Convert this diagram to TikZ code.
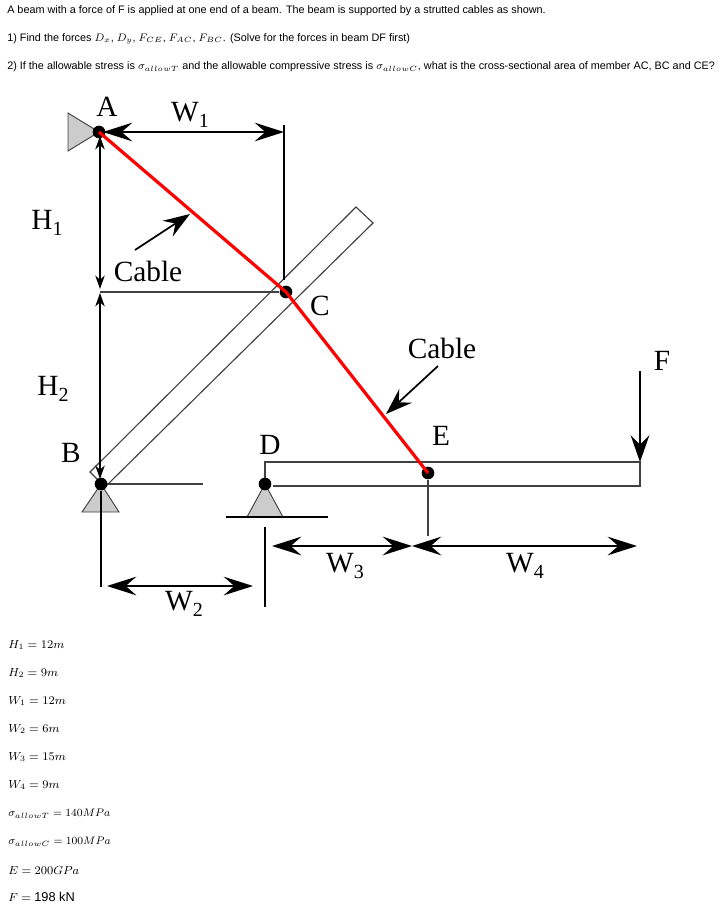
\documentclass[tikz,border=0pt]{standalone}
\usepackage{fix-cm}
\usepackage{fontspec}
\setmainfont{Liberation Sans}
\newfontfamily\figfont{Liberation Serif}
\usetikzlibrary{arrows.meta}
\newcommand{\labsub}[1]{\raisebox{-5pt}{\fontsize{15}{15}\selectfont #1}}
\tikzset{
  px/.style={x=0.75pt,y=-0.75pt},
  para/.style={anchor=west,inner sep=0pt,font=\fontsize{8.13}{10}\selectfont},
  val/.style={anchor=west,inner sep=0pt,font=\fontsize{8.8}{10}\selectfont},
  valtight/.style={anchor=west,inner sep=0pt,font=\fontsize{8.2}{10}\selectfont},
  lab/.style={inner sep=0pt,font=\figfont\fontsize{22}{24}\selectfont},
  dot/.style={circle,fill=black,draw=none,minimum size=9.5pt,inner sep=0pt},
  support/.style={fill=black!20,draw=black!75,line width=0.7pt},
  thin line/.style={draw=black!75,line width=0.85pt},
  dim/.style={draw=black,line width=1.3pt},
  big/.style={{Stealth[length=22pt,width=14pt,inset=8pt]}-{Stealth[length=22pt,width=14pt,inset=8pt]}},
  bigend/.style={-{Stealth[length=20pt,width=14pt,inset=7pt]}},
  small/.style={{Stealth[length=10pt,width=7pt,inset=3pt]}-{Stealth[length=10pt,width=7pt,inset=3pt]}},
  cable/.style={draw=red,line width=2.4pt},
}
\begin{document}
\begin{tikzpicture}[px]
\useasboundingbox (0,0) rectangle (720,915);
% text
\node[para] (t1) at (7,11) {A beam with a force of F is applied at one end of a beam. The beam is supported by a strutted cables as shown.};
\node[para] (t2) at (7,39) {1) Find the forces $D_x$, $D_y$, $F_{CE}$, $F_{AC}$, $F_{BC}$. (Solve for the forces in beam DF first)};
\node[para] (t3) at (7,67) {2) If the allowable stress is $\sigma_{allowT}$ and the allowable compressive stress is $\sigma_{allowC}$, what is the cross-sectional area of member AC, BC and CE?};
% values
\node[val] (v1) at (8,645) {$H_1=12m$};
\node[val] (v2) at (8,673) {$H_2=9m$};
\node[val] (v3) at (8,701) {$W_1=12m$};
\node[val] (v4) at (8,729) {$W_2=6m$};
\node[val] (v5) at (8,757) {$W_3=15m$};
\node[val] (v6) at (8,785) {$W_4=9m$};
\node[valtight] (v7) at (8,814) {$\sigma_{allowT}=140MPa$};
\node[valtight] (v8) at (8,842) {$\sigma_{allowC}=100MPa$};
\node[val] (v9) at (8,870) {$E=200GPa$};
\node[val] (v10) at (8,897) {$F=$ {\fontsize{9.6}{10}\selectfont 198 kN}};
% structure
\filldraw[support] (68,113) -- (99,132) -- (68,151) -- cycle;
\filldraw[support] (101,484) -- (119,512) -- (82,512) -- cycle;
\filldraw[support] (265,484) -- (283,517) -- (247,517) -- cycle;
\draw[thin line] (90,472) -- (356,207) -- (373,223) -- (105,487) -- cycle;
\draw[thin line] (101,484) -- (203,484);
\draw[thin line] (273,486) -- (640,486) -- (640,462) -- (265,462) -- (265,484);
\draw[dim] (226,517) -- (328,517);
\node[dot] (A) at (99,132) {};
\node[dot] (B) at (101,484) {};
\node[dot] (C) at (286,292) {};
\node[dot] (D) at (265,484) {};
\node[dot] (E) at (428,473) {};
% dimension helpers
\coordinate (h1top) at (100,136);
\coordinate (h1bot) at (100,289);
\coordinate (hl) at (100,292);
\coordinate (h2top) at (100,293);
\coordinate (h2bot) at (100,479);
\coordinate (w1l) at (103,132);
\coordinate (w1r) at (284,132);
\coordinate (w1t) at (284,125);
\coordinate (w1b) at (284,280);
\coordinate (bb) at (101,587);
\coordinate (w2l) at (107,586);
\coordinate (w2r) at (253,586);
\coordinate (dt) at (265,527);
\coordinate (db) at (265,607);
\coordinate (w3l) at (272,546);
\coordinate (w3r) at (412,546);
\coordinate (w4r) at (637,546);
\coordinate (eb) at (428,536);
\coordinate (ft) at (640,371);
\coordinate (fb) at (640,462);
\coordinate (c1a) at (135,250);
\coordinate (c1b) at (190,214);
\coordinate (c2a) at (438,366);
\coordinate (c2b) at (386,414);
\draw[dim,small] (h1top) -- (h1bot);
\draw[dim,small] (h2top) -- (h2bot);
\draw[thin line] (hl) -- (C);
\draw[dim] (B) -- (bb);
\draw[dim,big] (w1l) -- (w1r);
\draw[dim] (w1t) -- (w1b);
\draw[dim,big] (w2l) -- (w2r);
\draw[dim] (dt) -- (db);
\draw[dim,big] (w3l) -- (w3r);
\draw[dim,big] (w3r) -- (w4r);
\draw[thin line] (E) -- (eb);
\draw[dim,bigend] (ft) -- (fb);
\draw[dim,bigend] (c1a) -- (c1b);
\draw[dim,bigend] (c2a) -- (c2b);
\draw[cable] (A.center) -- (C.center) -- (E.center);
% labels
\node[lab] (lA) at (107,107) {A};
\node[lab] (lB) at (71,453) {B};
\node[lab] (lC) at (320,306) {C};
\node[lab] (lD) at (270,445) {D};
\node[lab] (lE) at (441,436) {E};
\node[lab] (lF) at (662,361) {F};
\node[lab] (lH1) at (47,223) {H\labsub{1}};
\node[lab] (lH2) at (53,389) {H\labsub{2}};
\node[lab] (lW1) at (190,115) {W\labsub{1}};
\node[lab] (lW2) at (184,604) {W\labsub{2}};
\node[lab] (lW3) at (345,566) {W\labsub{3}};
\node[lab] (lW4) at (525,566) {W\labsub{4}};
\node[lab] (lc1) at (148,271) {Cable};
\node[lab] (lc2) at (442,348) {Cable};
\end{tikzpicture}
\end{document}
